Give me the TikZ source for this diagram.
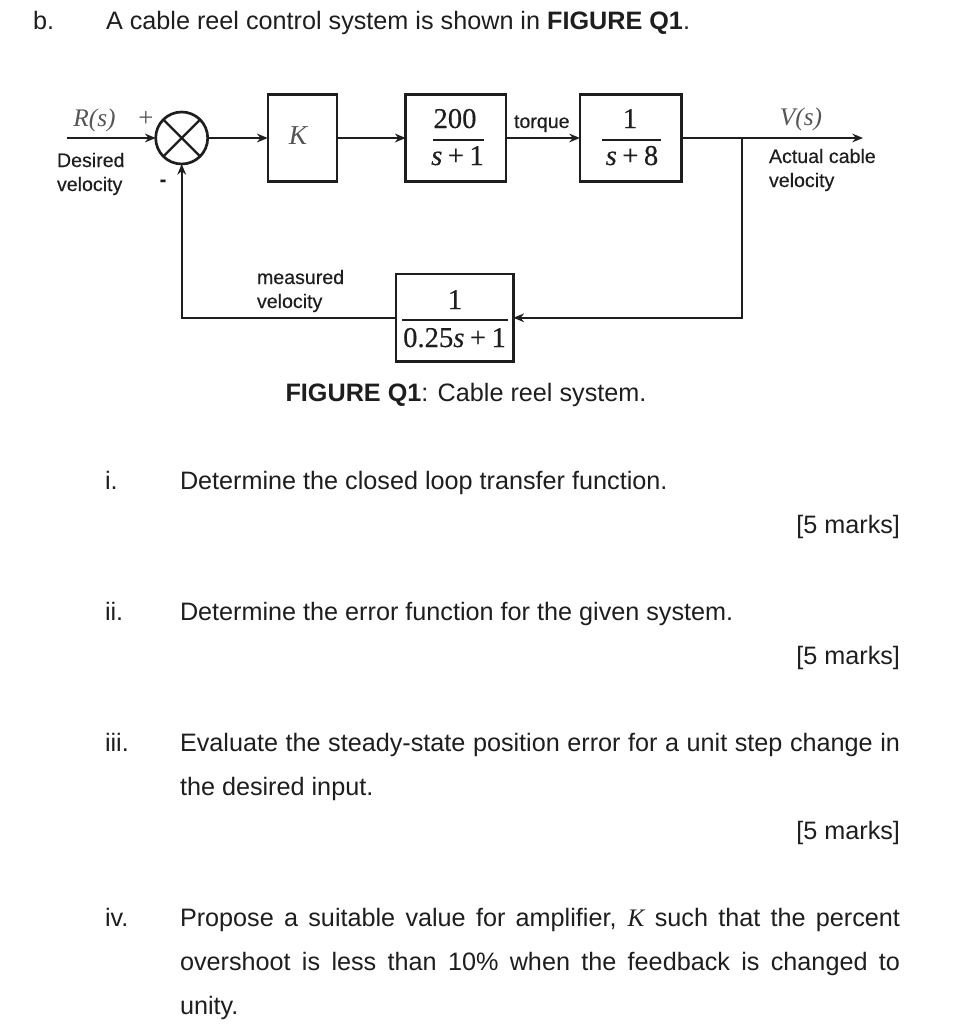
\documentclass[tikz,border=0pt]{standalone}
\usepackage{fontspec}
\setmainfont{Liberation Sans}
\newfontfamily\ser{Liberation Serif}
\newfontfamily\serb[FakeBold=0.35]{Liberation Serif}
\newfontfamily\labfam[FakeBold=0.35]{Liberation Sans}
\usetikzlibrary{arrows.meta}
\definecolor{ink}{HTML}{1E1E1E}
\definecolor{gr}{HTML}{555555}
\newcommand{\bodyf}{\fontsize{18.9pt}{20pt}\selectfont}
\newcommand{\labf}{\fontsize{14.7pt}{16pt}\selectfont\labfam}
\newcommand{\fracf}{\fontsize{21.5pt}{22pt}\selectfont\serb}
\newcommand{\just}[1]{\hbox to 540pt{#1}}
\newcommand{\sv}{\textit{s}}
\newcommand{\plusgap}{\hspace{0.19em}+\hspace{0.19em}}
\tikzset{
 x=0.75pt,y=-0.75pt,
 txt/.style={anchor=base west,inner sep=0,outer sep=0,text=ink,font=\bodyf,yshift=-0.6pt},
 rtxt/.style={anchor=base east,inner sep=0,outer sep=0,text=ink,font=\bodyf,yshift=-0.6pt},
 lab/.style={anchor=base west,inner sep=0,outer sep=0,text=ink,font=\labf},
 sym/.style={anchor=base,inner sep=0,outer sep=0,text=gr,font=\fontsize{19pt}{20pt}\selectfont\ser\itshape},
 num/.style={anchor=base,inner sep=0,outer sep=0,text=ink,font=\fracf},
 blockbox/.style={draw=ink,line width=1.8pt,inner sep=0,outer sep=0},
 wire/.style={draw=ink,line width=1.7pt},
 arr/.style={wire,-{Stealth[length=8pt,width=6.5pt]}},
 rulef/.style={draw=ink,line width=1.2pt}
}
\begin{document}
\begin{tikzpicture}
\useasboundingbox (0,0) rectangle (969,1024);
\fill[white] (0,0) rectangle (969,1024);
% header
\node[txt] (tb) at (33,29) {b.};
\node[txt] (th) at (106,29) {A cable reel control system is shown in \textbf{FIGURE Q1}.};
% blocks
\node[blockbox,minimum width=51.75pt,minimum height=65.5pt] (K) at (302.2,138) {};
\node[blockbox,minimum width=75.2pt,minimum height=65.5pt] (G1) at (455.8,138) {};
\node[blockbox,minimum width=76.3pt,minimum height=65.5pt] (G2) at (630.8,138) {};
\node[blockbox,minimum width=88pt,minimum height=65.8pt] (H) at (454.7,317.8) {};
\node[draw=ink,circle,line width=2pt,minimum size=39pt,inner sep=0,outer sep=0] (S) at (181.7,138) {};
\draw[ink,line width=1.8pt] (S.45) -- (S.225) (S.135) -- (S.315);
% coordinates
\coordinate (in) at (66.7,138);
\coordinate (j) at (741.7,138);
\coordinate (out) at (863,138);
\coordinate (c) at (741.7,317.8);
\coordinate (d) at (181.7,317.8);
% wires
\draw[arr] (in) -- (S.west);
\draw[arr] (S.east) -- (K.west);
\draw[arr] (K.east) -- (G1.west);
\draw[arr] (G1.east) -- (G2.west);
\draw[wire] (G2.east) -- (j);
\draw[arr] (j) -- (out);
\draw[wire,line cap=rect] (j) -- (c);
\draw[arr] (c) -- (H.east);
\draw[wire,line cap=rect] (H.west) -- (d);
\draw[arr] (d) -- (S.south);
% block contents
\node[sym,font=\fontsize{20.5pt}{22pt}\selectfont\ser\itshape] (Kt) at (298,144) {K};
\node[num] (n1) at (455,128) {200};
\draw[rulef] (433,140) -- (484,140);
\node[num] (d1) at (457.5,165) {\sv\plusgap 1};
\node[num] (n2) at (630,128) {1};
\draw[rulef] (602,140) -- (661,140);
\node[num] (d2) at (632,165) {\sv\plusgap 8};
\node[num] (n3) at (455,309) {1};
\draw[rulef] (402,320) -- (508,320);
\node[num] (d3) at (454.5,347) {0.25\sv\plusgap 1};
% labels
\node[sym] (R) at (94.5,126) {R(s)};
\node[sym,font=\fontsize{20pt}{22pt}\selectfont\ser] (pl) at (146,126) {+};
\node[sym] (V) at (801,125) {V(s)};
\node[lab] (dv1) at (57,167) {Desired};
\node[lab] (dv2) at (57,191) {velocity};
\node[anchor=base,inner sep=0,text=ink,font=\labf\bfseries] (mn) at (163,186) {-};
\node[lab] (tq) at (514,128) {torque};
\node[lab] (ac1) at (769,163) {Actual cable};
\node[lab] (ac2) at (769,187) {velocity};
\node[lab] (mv1) at (257,284) {measured};
\node[lab] (mv2) at (257,308) {velocity};
% caption
\node[anchor=base,inner sep=0,text=ink,font=\bodyf,yshift=-0.6pt] (cap) at (466,401) {\textbf{FIGURE Q1}: Cable reel system.};
% questions
\node[txt] (q1) at (105,489) {i.};
\node[txt] (q1t) at (180,489) {Determine the closed loop transfer function.};
\node[rtxt] (m1) at (900,533) {[5 marks]};
\node[txt] (q2) at (105,620) {ii.};
\node[txt] (q2t) at (180,620) {Determine the error function for the given system.};
\node[rtxt] (m2) at (900,664) {[5 marks]};
\node[txt] (q3) at (105,751) {iii.};
\node[txt] (q3t) at (180,751) {\just{Evaluate the steady-state position error for a unit step change in}};
\node[txt] (q3u) at (180,795) {the desired input.};
\node[rtxt] (m3) at (900,839) {[5 marks]};
\node[txt] (q4) at (105,926) {iv.};
\node[txt] (q4t) at (180,926) {\just{Propose a suitable value for amplifier, {\ser\itshape K} such that the percent}};
\node[txt] (q4u) at (180,970) {\just{overshoot is less than 10\% when the feedback is changed to}};
\node[txt] (q4v) at (180,1014) {unity.};
\end{tikzpicture}
\end{document}
